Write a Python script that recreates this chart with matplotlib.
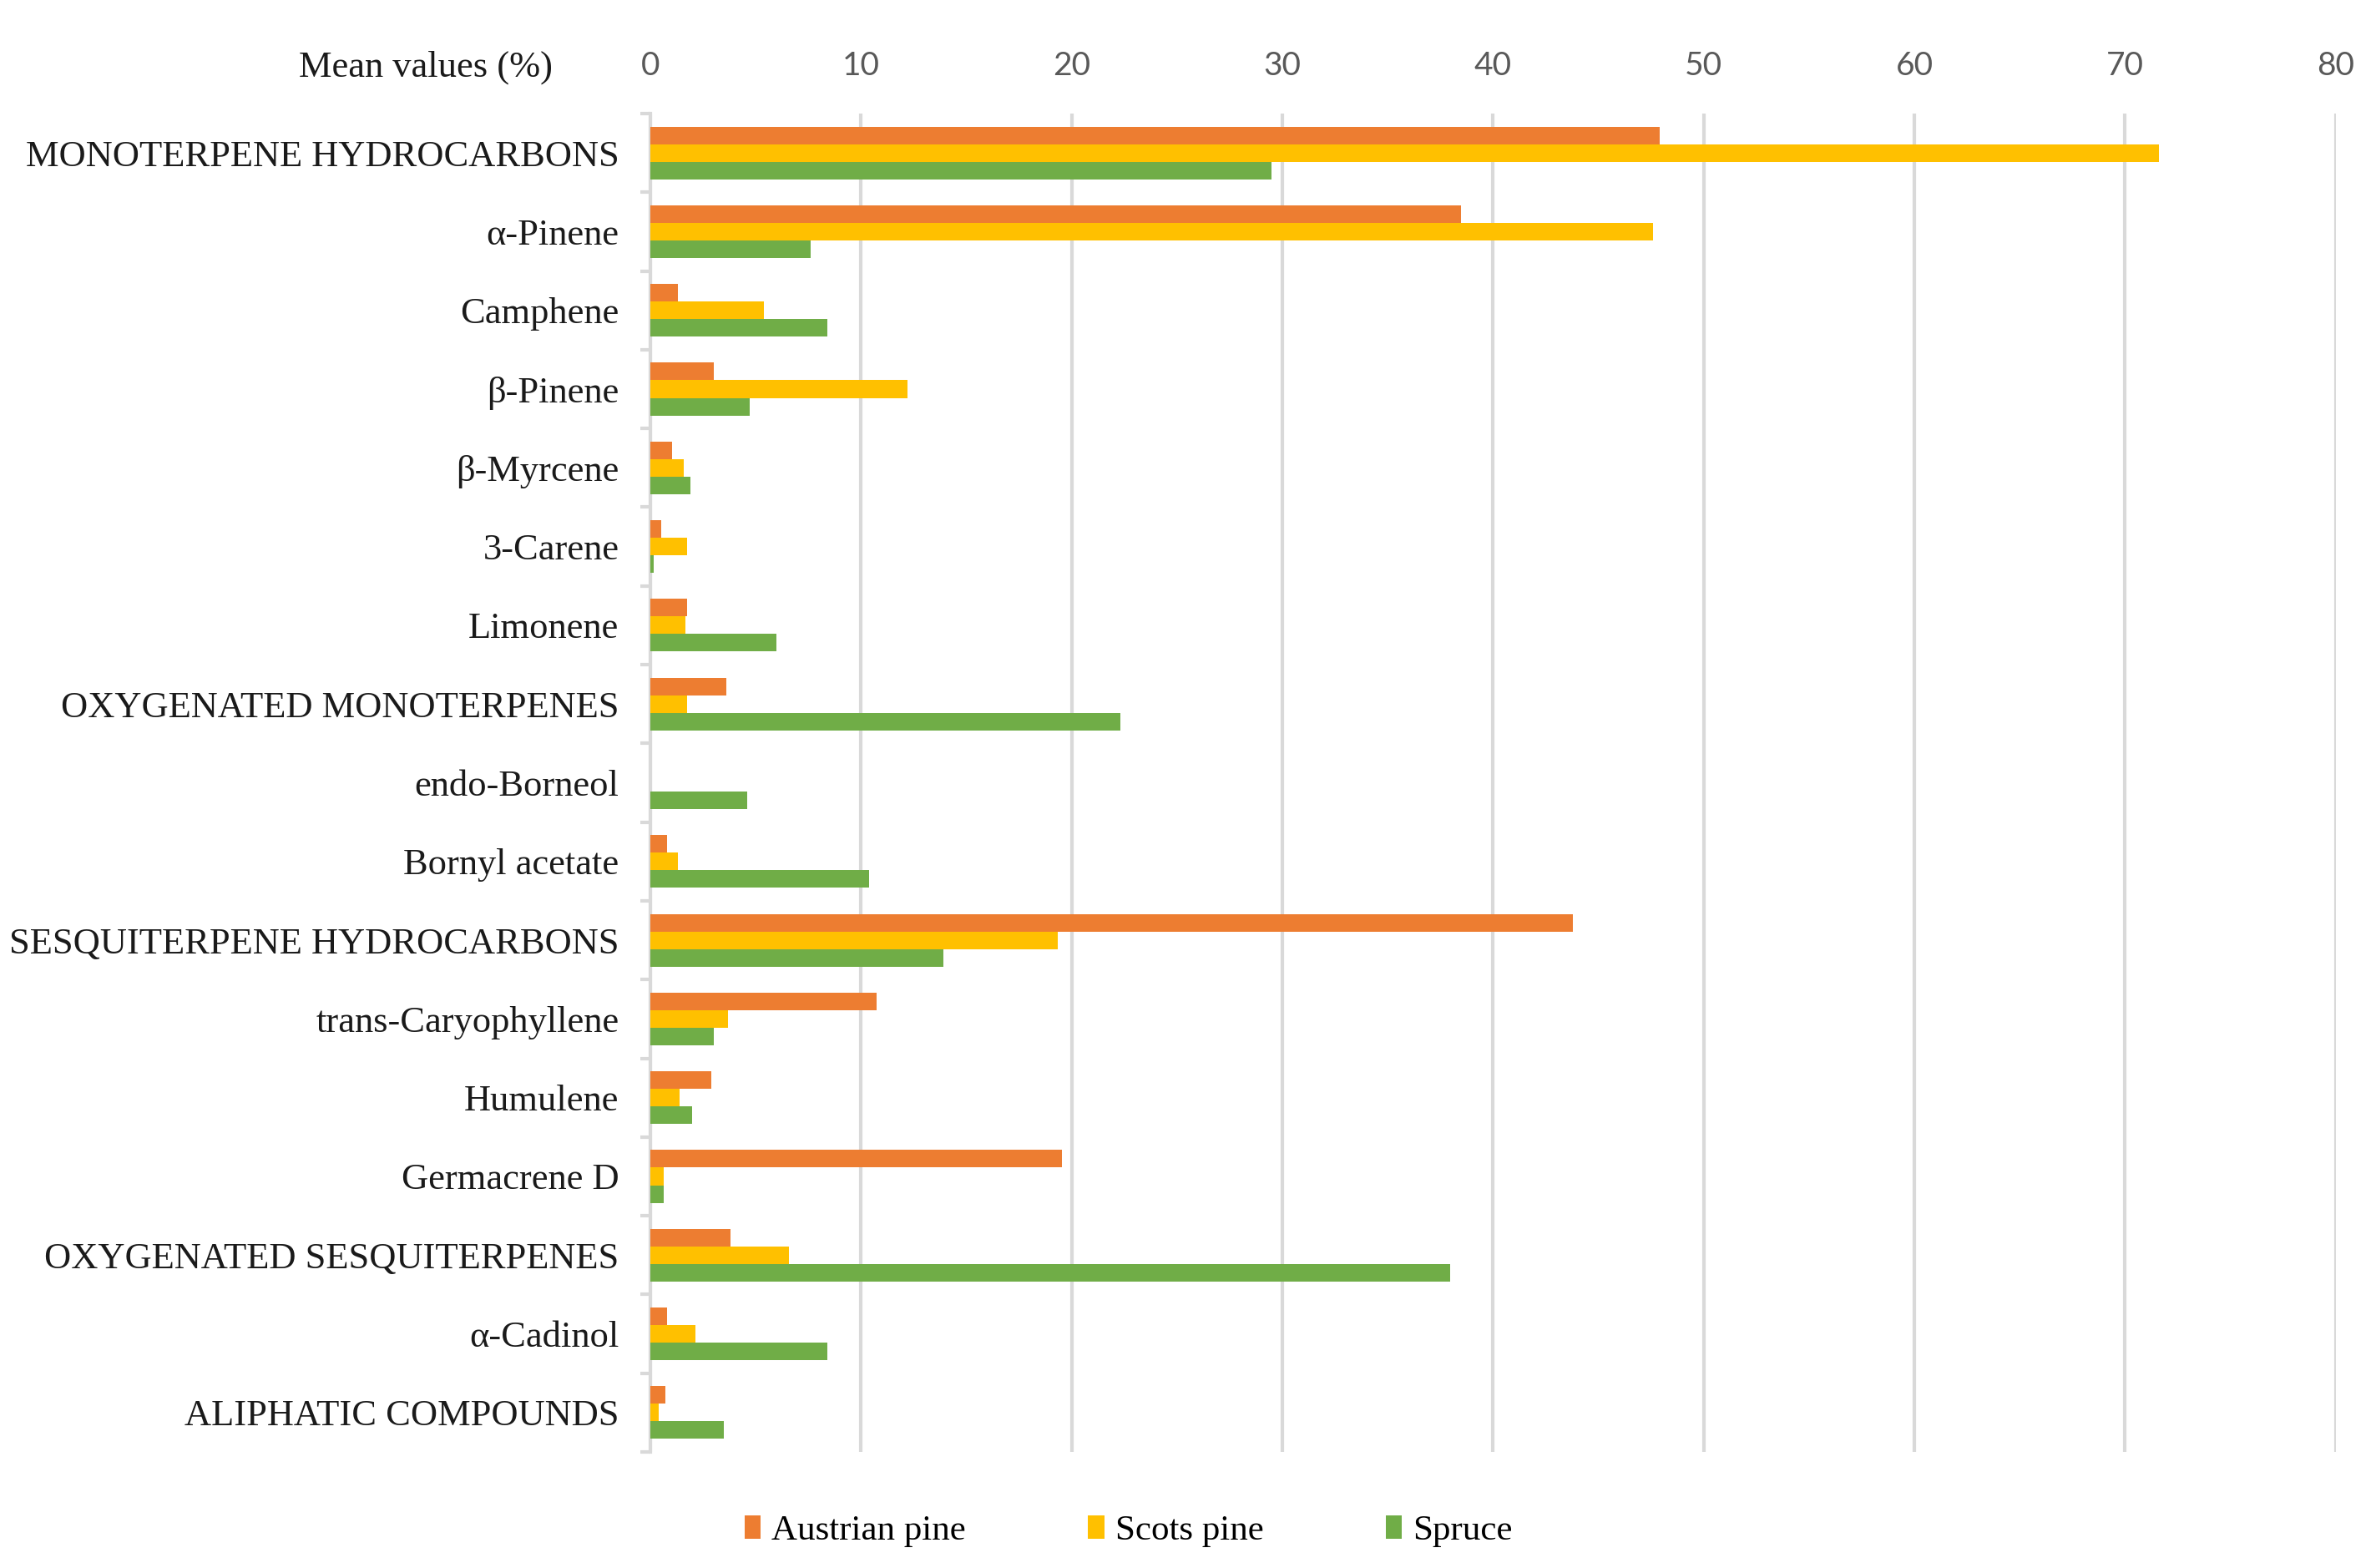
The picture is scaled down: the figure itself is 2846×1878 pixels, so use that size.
import numpy as np
import matplotlib
matplotlib.use('Agg')
import matplotlib.pyplot as plt

compounds = [
    'MONOTERPENE HYDROCARBONS', 'α-Pinene', 'Camphene', 'β-Pinene', 'β-Myrcene',
    '3-Carene', 'Limonene', 'OXYGENATED MONOTERPENES', 'endo-Borneol',
    'Bornyl acetate', 'SESQUITERPENE HYDROCARBONS', 'trans-Caryophyllene',
    'Humulene', 'Germacrene D', 'OXYGENATED SESQUITERPENES', 'α-Cadinol',
    'ALIPHATIC COMPOUNDS',
]
austrian_pine = [47.9, 38.5, 1.3, 3.0, 1.05, 0.5, 1.75, 3.6, 0.0, 0.8,
                 43.8, 10.75, 2.9, 19.55, 3.8, 0.8, 0.7]
scots_pine = [71.6, 47.6, 5.4, 12.2, 1.6, 1.75, 1.65, 1.75, 0.0, 1.3,
              19.35, 3.7, 1.4, 0.65, 6.6, 2.15, 0.4]
spruce = [29.5, 7.6, 8.4, 4.7, 1.9, 0.15, 6.0, 22.3, 4.6, 10.4,
          13.9, 3.0, 2.0, 0.65, 37.95, 8.4, 3.5]
series = ['Austrian pine', 'Scots pine', 'Spruce']
colors = ['#ED7D31', '#FFC000', '#70AD47']
x_ticks = list(range(0, 90, 10))

serif = ['Liberation Serif', 'DejaVu Serif']
sans = ['Lato', 'DejaVu Sans']

fig = plt.figure(figsize=(28.46, 18.78), dpi=100)
ax = fig.add_axes([0.2737, 0.074, 0.7093, 0.8536])

y = np.arange(len(compounds))
h = 0.223
for k, (vals, name, c) in enumerate(zip([austrian_pine, scots_pine, spruce], series, colors)):
    ax.barh(y + (k - 1) * h, vals, height=h, color=c, label=name, zorder=3)

ax.set_xlim(0, 80)
ax.set_ylim(len(compounds) - 0.5, -0.5)
ax.xaxis.tick_top()
ax.set_xticks(x_ticks)
ax.set_xticklabels([str(t) for t in x_ticks], family=sans, fontsize=28, color='#595959')
ax.tick_params(axis='x', length=0, pad=28)
ax.grid(axis='x', color='#d9d9d9', lw=3, zorder=0)

ax.set_yticks(y)
ax.set_yticklabels(compounds, family=serif, fontsize=32, color='#1a1a1a')
ax.tick_params(axis='y', which='major', length=0, pad=27)
ax.set_yticks(np.arange(len(compounds) + 1) - 0.5, minor=True)
ax.tick_params(axis='y', which='minor', length=9, width=3, color='#d9d9d9')

for s in ['top', 'right', 'bottom']:
    ax.spines[s].set_visible(False)
ax.spines['left'].set_color('#d9d9d9')
ax.spines['left'].set_linewidth(3)

fig.text(0.2326, 0.957, 'Mean values (%)', family=serif, fontsize=32,
         color='#1a1a1a', ha='right', va='center')

fig.legend(loc='center', bbox_to_anchor=(0.475, 0.0235), ncol=3, frameon=False,
           prop={'family': serif, 'size': 31}, handlelength=0.45, handleheight=0.65,
           handletextpad=0.3, columnspacing=3.4)

fig.savefig('out.png', dpi=100)
